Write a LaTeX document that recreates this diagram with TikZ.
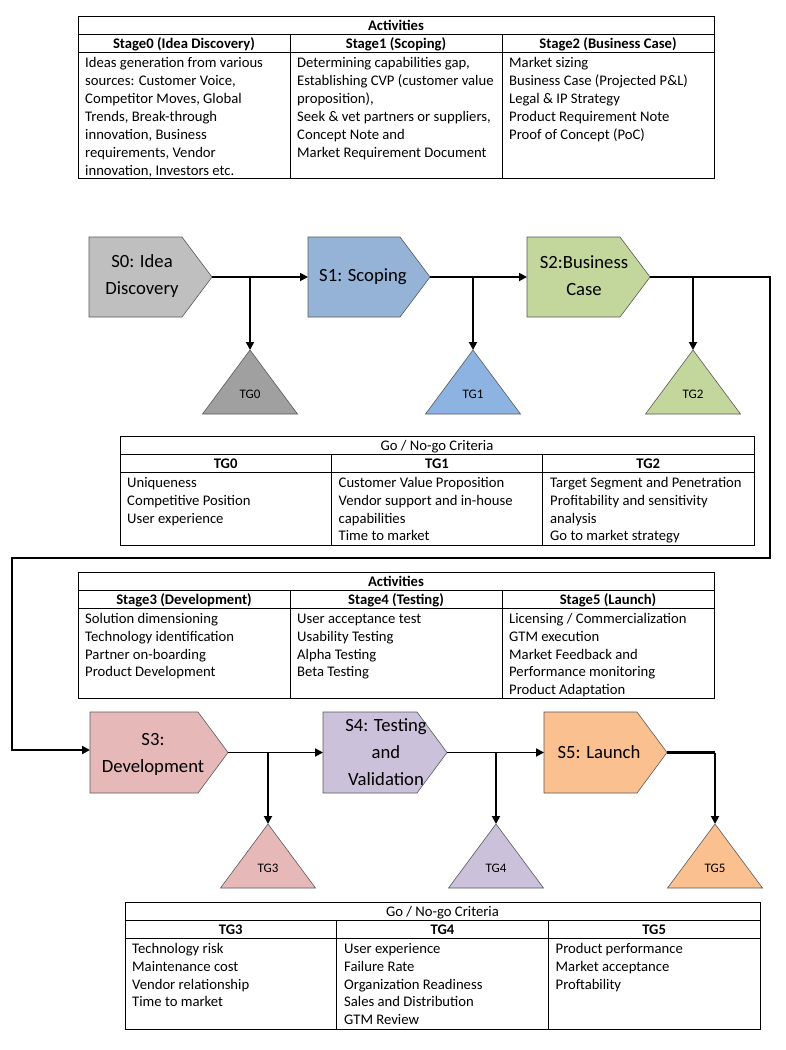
\documentclass[tikz,border=0pt]{standalone}
\usepackage{fontspec}
\setmainfont{Carlito}
\usetikzlibrary{arrows.meta}
\definecolor{cSa}{HTML}{BFBFBF}
\definecolor{cTa}{HTML}{A0A0A0}
\definecolor{cSb}{HTML}{95B3D7}
\definecolor{cTb}{HTML}{8DB3E2}
\definecolor{cSc}{HTML}{C3D69B}
\definecolor{cTc}{HTML}{C3D69B}
\definecolor{cSd}{HTML}{E6B9B8}
\definecolor{cTd}{HTML}{E6B9B8}
\definecolor{cSe}{HTML}{CCC1DA}
\definecolor{cTe}{HTML}{CCC1DA}
\definecolor{cSf}{HTML}{FAC090}
\definecolor{cTf}{HTML}{FAC090}
\newcommand\tgrid[4]{%
  \draw[tline] (#2,#1) rectangle (#3,#4);
  \draw[tline] (#2,{#1+18.5}) -- (#3,{#1+18.5});
  \draw[tline] (#2,{#1+36.5}) -- (#3,{#1+36.5});
  \draw[tline] ({#2+(#3-#2)/3},{#1+18.5}) -- ({#2+(#3-#2)/3},#4);
  \draw[tline] ({#2+2*(#3-#2)/3},{#1+18.5}) -- ({#2+2*(#3-#2)/3},#4);
}
\newcommand\stagepoly[7]{%
  \filldraw[stg, fill=#7] (#2,#5) -- (#3,#5) -- (#4,{(#5+#6)/2}) -- (#3,#6) -- (#2,#6) -- cycle;
  \coordinate (#1in) at (#2,{(#5+#6)/2});
  \coordinate (#1out) at (#4,{(#5+#6)/2});
}
\newcommand\tgtri[5]{%
  \filldraw[stg, fill=#4] (#2,#3) -- ({#2+47.5},{#3+64}) -- ({#2-47.5},{#3+64}) -- cycle;
  \coordinate (#1) at (#2,#3);
  \node[tgtext] (#1l) at (#2,{#3+44}) {#5};
}
\begin{document}
\begin{tikzpicture}[x=1pt,y=-1pt,
  tline/.style={line width=0.9pt, black},
  ttl/.style={font=\bfseries\fontsize{14.67}{17.9}\selectfont, anchor=base, inner sep=0pt},
  bodytext/.style={font=\fontsize{14.67}{17.9}\selectfont, anchor=north west, inner sep=0pt, align=left},
  stg/.style={draw=black!65, line width=0.6pt},
  stext/.style={font=\fontsize{18.67}{27}\selectfont, align=center, inner sep=0pt},
  tgtext/.style={font=\fontsize{13}{15}\selectfont, inner sep=0pt},
  flow/.style={line width=1.8pt, -{Triangle[length=8pt,width=8pt]}},
  loopline/.style={line width=2.7pt},
]
\useasboundingbox (0,0) rectangle (786,1050);
\fill[white] (0,0) rectangle (786,1050);

% ---------- Table 1: Activities (stages 0-2)
\tgrid{16}{78}{714}{178.5}
\node[ttl] (a1t) at (396,30.5) {Activities};
\node[ttl] (a1h0) at (184,48.5) {Stage0 (Idea Discovery)};
\node[ttl] (a1h1) at (396,48.5) {Stage1 (Scoping)};
\node[ttl] (a1h2) at (608,48.5) {Stage2 (Business Case)};
\node[bodytext] (a1b0) at (85,55) {\strut Ideas generation from various\\\strut sources: Customer Voice,\\\strut Competitor Moves, Global\\\strut Trends, Break-through\\\strut innovation, Business\\\strut requirements, Vendor\\\strut innovation, Investors etc.};
\node[bodytext] (a1b1) at (297,55) {\strut Determining capabilities gap,\\\strut Establishing CVP (customer value\\\strut proposition),\\\strut Seek \& vet partners or suppliers,\\\strut Concept Note and\\\strut Market Requirement Document};
\node[bodytext] (a1b2) at (509,55) {\strut Market sizing\\\strut Business Case (Projected P\&L)\\\strut Legal \& IP Strategy\\\strut Product Requirement Note\\\strut Proof of Concept (PoC)};

% ---------- Row 1 stages
\stagepoly{s0}{89}{182}{212}{237}{317}{cSa}
\stagepoly{s1}{308}{400}{430}{237}{317}{cSb}
\stagepoly{s2}{527}{620}{650}{237}{317}{cSc}
\node[stext] (s0t) at (142,276) {S0: Idea\\Discovery};
\node[stext] (s1t) at (363,277) {S1: Scoping};
\node[stext] (s2t) at (584,276) {S2:Business\\Case};
\tgtri{tg0}{250}{350}{cTa}{TG0}
\tgtri{tg1}{473}{350}{cTb}{TG1}
\tgtri{tg2}{693}{350}{cTc}{TG2}
\coordinate (b0) at (250,277);
\coordinate (b1) at (473,277);
\coordinate (b2) at (693,277);
\draw[flow] (s0out) -- (s1in);
\draw[flow] (s1out) -- (s2in);
\draw[flow] (b0) -- (tg0);
\draw[flow] (b1) -- (tg1);
\draw[flow] (b2) -- (tg2);

% ---------- Table 2: Go / No-go (TG0-TG2)
\tgrid{436}{120}{754}{545}
\node[ttl,font=\fontsize{14.67}{17.9}\selectfont] (g1t) at (437,450.5) {Go / No-go Criteria};
\node[ttl] (g1h0) at (225.7,468.5) {TG0};
\node[ttl] (g1h1) at (437,468.5) {TG1};
\node[ttl] (g1h2) at (648.3,468.5) {TG2};
\node[bodytext] (g1b0) at (127,474.5) {\strut Uniqueness\\\strut Competitive Position\\\strut User experience};
\node[bodytext] (g1b1) at (338.5,474.5) {\strut Customer Value Proposition\\\strut Vendor support and in-house\\\strut capabilities\\\strut Time to market};
\node[bodytext] (g1b2) at (550,474.5) {\strut Target Segment and Penetration\\\strut Profitability and sensitivity\\\strut analysis\\\strut Go to market strategy};

% ---------- Table 3: Activities (stages 3-5)
\tgrid{572}{78}{714}{698}
\node[ttl] (a2t) at (396,586.5) {Activities};
\node[ttl] (a2h0) at (184,604.5) {Stage3 (Development)};
\node[ttl] (a2h1) at (396,604.5) {Stage4 (Testing)};
\node[ttl] (a2h2) at (608,604.5) {Stage5 (Launch)};
\node[bodytext] (a2b0) at (85,610.5) {\strut Solution dimensioning\\\strut Technology identification\\\strut Partner on-boarding\\\strut Product Development};
\node[bodytext] (a2b1) at (297,610.5) {\strut User acceptance test\\\strut Usability Testing\\\strut Alpha Testing\\\strut Beta Testing};
\node[bodytext] (a2b2) at (509,610.5) {\strut Licensing / Commercialization\\\strut GTM execution\\\strut Market Feedback and\\\strut Performance monitoring\\\strut Product Adaptation};

% ---------- Row 2 stages
\stagepoly{s3}{90}{198}{228}{712}{793}{cSd}
\stagepoly{s4}{323}{417}{447}{712}{793}{cSe}
\stagepoly{s5}{544}{637}{667}{712}{793}{cSf}
\node[stext] (s3t) at (153,754) {S3:\\Development};
\node[stext] (s4t) at (386,752) {S4: Testing\\and\\Validation};
\node[stext] (s5t) at (599,752) {S5: Launch};
\tgtri{tg3}{268}{824}{cTd}{TG3}
\tgtri{tg4}{496}{824}{cTe}{TG4}
\tgtri{tg5}{715}{824}{cTf}{TG5}
\coordinate (b3) at (268,752.5);
\coordinate (b4) at (496,752.5);
\coordinate (b5) at (715,752.5);
\draw[flow] (s3out) -- (s4in);
\draw[flow] (s4out) -- (s5in);
\draw[flow] (b3) -- (tg3);
\draw[flow] (b4) -- (tg4);
\draw[loopline] (s5out) -- (b5);
\draw[flow] (b5) -- (tg5);

% ---------- loop connector S2 -> S3
\coordinate (r1) at (770,277);
\coordinate (r2) at (770,558);
\coordinate (l1) at (12,558);
\coordinate (l2) at (12,750);
\coordinate (s3a) at (90,750);
\draw[loopline, line join=miter, -{Triangle[length=8pt,width=8pt]}] (s2out) -- (r1) -- (r2) -- (l1) -- (l2) -- (s3a);

% ---------- Table 4: Go / No-go (TG3-TG5)
\tgrid{902}{125}{760}{1029}
\node[ttl,font=\fontsize{14.67}{17.9}\selectfont] (g2t) at (442.5,916.5) {Go / No-go Criteria};
\node[ttl] (g2h0) at (230.8,934.5) {TG3};
\node[ttl] (g2h1) at (442.5,934.5) {TG4};
\node[ttl] (g2h2) at (654.2,934.5) {TG5};
\node[bodytext] (g2b0) at (132,940.5) {\strut Technology risk\\\strut Maintenance cost\\\strut Vendor relationship\\\strut Time to market};
\node[bodytext] (g2b1) at (344,940.5) {\strut User experience\\\strut Failure Rate\\\strut Organization Readiness\\\strut Sales and Distribution\\\strut GTM Review};
\node[bodytext] (g2b2) at (555.5,940.5) {\strut Product performance\\\strut Market acceptance\\\strut Proftability};
\end{tikzpicture}
\end{document}
